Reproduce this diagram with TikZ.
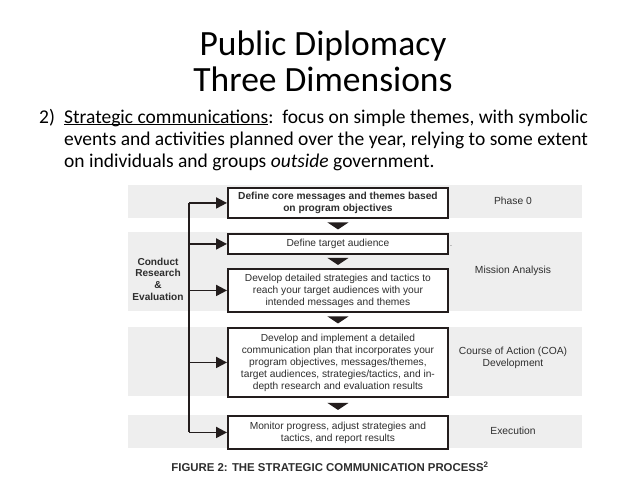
\documentclass[tikz,border=0pt]{standalone}
\usepackage{fontspec}
\setmainfont{Carlito}
\newfontfamily\arialf{Liberation Sans}
\usetikzlibrary{arrows.meta,calc}
\definecolor{ink}{HTML}{231D1D}
\definecolor{band}{HTML}{EEEEEE}
\definecolor{dtext}{HTML}{2E2E2E}
\tikzset{
  bandbox/.style={fill=band,draw=none},
  flowbox/.style={draw=ink,line width=1.9pt,fill=white,inner sep=1pt,align=center,text=dtext,
    font=\arialf\fontsize{10.2}{12}\selectfont,minimum width=220pt,anchor=north west},
  phase/.style={align=center,text=dtext,font=\arialf\fontsize{10.3}{12}\selectfont},
  feed/.style={ink,line width=1.9pt},
  feedarr/.style={ink,line width=1.9pt,-{Triangle[length=11pt,width=11pt]}},
  body/.style={anchor=base west,inner sep=0pt,font=\fontsize{19.5}{23}\selectfont},
  ttl/.style={anchor=base,inner sep=0pt,font=\fontsize{35.5}{40}\selectfont}
}
\begin{document}
\begin{tikzpicture}[x=1pt,y=-1pt]
\useasboundingbox[fill=white] (0,0) rectangle (638,479);
% title
\node[ttl] (t1) at (323,55) {Public Diplomacy};
\node[ttl] (t2) at (323,91) {Three Dimensions};
% body text
\node[body] (n2) at (39,123) {2)};
\node[body] (l1) at (64,123) {\underline{\smash{Strategic communications}}:\ \ focus on simple themes, with symbolic};
\node[body] (l2) at (64,145) {events and activities planned over the year, relying to some extent};
\node[body] (l3) at (64,167) {on individuals and groups \emph{outside} government.};
% bands
\fill[bandbox] (128,185) rectangle (582,218);
\fill[bandbox] (128,232) rectangle (582,311);
\fill[bandbox] (128,327) rectangle (582,396);
\fill[bandbox] (128,415) rectangle (582,448);
% boxes
\node[flowbox,minimum height=30pt,font=\arialf\bfseries\fontsize{10.2}{12}\selectfont] (b1) at (227,187)
  {Define core messages and themes based\\on program objectives};
\node[flowbox,minimum height=20pt] (b2) at (227,233) {Define target audience};
\node[flowbox,minimum height=43pt] (b3) at (227,268)
  {Develop detailed strategies and tactics to\\reach your target audiences with your\\intended messages and themes};
\node[flowbox,minimum height=69pt] (b4) at (227,327)
  {Develop and implement a detailed\\communication plan that incorporates your\\program objectives, messages/themes,\\target audiences, strategies/tactics, and in-\\depth research and evaluation results};
\node[flowbox,minimum height=33pt] (b5) at (227,415)
  {Monitor progress, adjust strategies and\\tactics, and report results};
% down triangles
\foreach \a/\b in {b1/b2,b2/b3,b3/b4,b4/b5}{
  \coordinate (m) at ($(\a.south)!0.5!(\b.north)$);
  \fill[ink] ([shift={(-10.5,-3.5)}]m) -- ++(21,0) -- ++(-10.5,7) -- cycle;
}
% feedback line
\coordinate (vx) at (189,0);
\draw[feed] (vx |- b1.west) -- (vx |- b5.west);
\foreach \i in {1,...,5}{
  \draw[feedarr] (vx |- b\i.west) -- (b\i.west);
}
% left label
\node[align=center,text=dtext,font=\arialf\bfseries\fontsize{10.1}{11.7}\selectfont] (cre) at (158,279)
  {Conduct\\Research\\\&\\Evaluation};
% phase labels
\node[phase] (p0) at (513,201) {Phase 0};
\node[phase] (p1) at (513,271) {Mission Analysis};
\node[phase] (p2) at (513,358) {Course of Action (COA)\\Development};
\node[phase] (p3) at (513,431) {Execution};
\node[text=dtext,font=\arialf\fontsize{7}{8}\selectfont,inner sep=0pt] (dot) at (451,246) {.};
% caption
\node[text=dtext,font=\arialf\bfseries\fontsize{11.4}{13}\selectfont] (cap) at (330,467)
  {FIGURE 2: THE STRATEGIC COMMUNICATION PROCESS\textsuperscript{2}};
\end{tikzpicture}
\end{document}
